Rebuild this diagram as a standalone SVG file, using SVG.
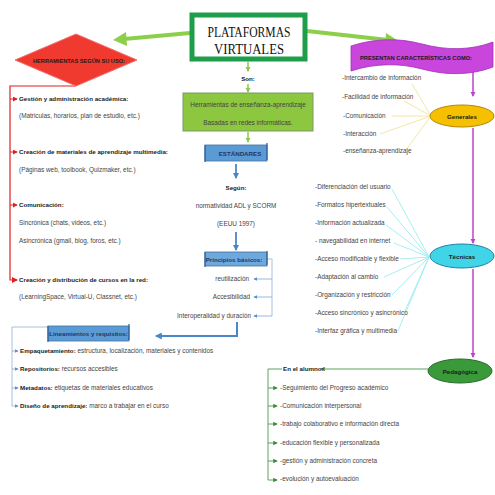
<svg xmlns="http://www.w3.org/2000/svg" width="495" height="495" viewBox="0 0 495 495">
<style>
text{font-family:"Liberation Sans Narrow","Liberation Sans",Arial,sans-serif;font-size:6.4px;fill:#444}
.b{font-weight:bold;fill:#1a1a1a;font-size:6.2px}
.c{text-anchor:middle}
.e{text-anchor:end}
.nv{font-weight:bold;fill:#1f3864;font-size:6.2px}
.title{font-family:"Liberation Serif","Times New Roman",serif;font-size:14px;fill:#111;text-anchor:middle}
</style>
<defs>
<marker id="ar" viewBox="0 0 6 6" refX="5" refY="3" markerWidth="5" markerHeight="5" orient="auto"><path d="M0,0L6,3L0,6z" fill="#e02020"/></marker>
<marker id="ab" viewBox="0 0 6 6" refX="5" refY="3" markerWidth="5" markerHeight="5" orient="auto"><path d="M0,0L6,3L0,6z" fill="#5b8fd0"/></marker>
<marker id="abb" viewBox="0 0 6 6" refX="5" refY="3" markerWidth="3.5" markerHeight="3.5" orient="auto"><path d="M0,0L6,3L0,6z" fill="#4a86c8"/></marker>
<marker id="ag" viewBox="0 0 6 6" refX="5" refY="3" markerWidth="5" markerHeight="5" orient="auto"><path d="M0,0L6,3L0,6z" fill="#3a8a3a"/></marker>
<marker id="alg" viewBox="0 0 6 6" refX="5" refY="3" markerWidth="3.5" markerHeight="3.5" orient="auto"><path d="M0,0L6,3L0,6z" fill="#8cc850"/></marker>
<marker id="ap" viewBox="0 0 6 6" refX="5" refY="3" markerWidth="3.5" markerHeight="3.5" orient="auto"><path d="M0,0L6,3L0,6z" fill="#c040d0"/></marker>
</defs>

<g id="connectors" fill="none">
  <line x1="190" y1="33" x2="124" y2="39" stroke="#8ccf4a" stroke-width="4"/>
  <polygon points="113,40 126,32 127,46" fill="#8ccf4a"/>
  <line x1="307" y1="31" x2="388" y2="40" stroke="#8ccf4a" stroke-width="4"/>
  <polygon points="400,42 386,33 385,47" fill="#8ccf4a"/>
  <line x1="248" y1="62" x2="248" y2="71" stroke="#8cc850" stroke-width="1.5" marker-end="url(#alg)"/>
  <line x1="248" y1="84" x2="248" y2="92" stroke="#8cc850" stroke-width="1.5" marker-end="url(#alg)"/>
  <line x1="248" y1="132" x2="248" y2="142" stroke="#8cc850" stroke-width="1.5" marker-end="url(#alg)"/>
  <line x1="236" y1="164" x2="236" y2="178" stroke="#4a86c8" stroke-width="1.8" marker-end="url(#abb)"/>
  <line x1="236" y1="232" x2="236" y2="250" stroke="#4a86c8" stroke-width="1.8" marker-end="url(#abb)"/>
  <path d="M267,259 H272 V316" stroke="#8fb0da" stroke-width="0.8"/>
  <line x1="272" y1="279" x2="254" y2="279" stroke="#7ea6d3" stroke-width="0.8" marker-end="url(#ab)"/>
  <line x1="272" y1="297" x2="254" y2="297" stroke="#7ea6d3" stroke-width="0.8" marker-end="url(#ab)"/>
  <line x1="272" y1="316" x2="254" y2="316" stroke="#7ea6d3" stroke-width="0.8" marker-end="url(#ab)"/>
  <path d="M237,322 V336 H156" stroke="#4a86c8" stroke-width="2" marker-end="url(#abb)"/>
  <path d="M48,327 H12 V406 H18" stroke="#8fb0da" stroke-width="0.8" marker-end="url(#ab)"/>
  <line x1="12" y1="351" x2="18" y2="351" stroke="#7ea6d3" stroke-width="0.8" marker-end="url(#ab)"/>
  <line x1="12" y1="369" x2="18" y2="369" stroke="#7ea6d3" stroke-width="0.8" marker-end="url(#ab)"/>
  <line x1="12" y1="388" x2="18" y2="388" stroke="#7ea6d3" stroke-width="0.8" marker-end="url(#ab)"/>
  <path d="M76,86 H10 V280 H17" stroke="#e02020" stroke-width="1.2" marker-end="url(#ar)"/>
  <line x1="10" y1="99" x2="17" y2="99" stroke="#e02020" stroke-width="1" marker-end="url(#ar)"/>
  <line x1="10" y1="152" x2="17" y2="152" stroke="#e02020" stroke-width="1" marker-end="url(#ar)"/>
  <line x1="10" y1="205" x2="17" y2="205" stroke="#e02020" stroke-width="1" marker-end="url(#ar)"/>
  <line x1="473" y1="71" x2="473" y2="96" stroke="#c040d0" stroke-width="1.5" marker-end="url(#ap)"/>
  <line x1="473" y1="128" x2="473" y2="243" stroke="#c040d0" stroke-width="1.5" marker-end="url(#ap)"/>
  <line x1="473" y1="269" x2="473" y2="357" stroke="#c040d0" stroke-width="1.5" marker-end="url(#ap)"/>
  <g stroke="#f3e39a" stroke-width="0.9">
    <line x1="431" y1="116" x2="412" y2="84"/>
    <line x1="431" y1="116" x2="404" y2="101"/>
    <line x1="431" y1="116" x2="392" y2="116"/>
    <line x1="431" y1="116" x2="380" y2="134"/>
    <line x1="431" y1="116" x2="406" y2="150"/>
  </g>
  <g stroke="#9cecf0" stroke-width="0.9">
    <line x1="429" y1="257" x2="392" y2="189"/>
    <line x1="429" y1="257" x2="387" y2="207"/>
    <line x1="429" y1="257" x2="386" y2="225"/>
    <line x1="429" y1="257" x2="394" y2="243"/>
    <line x1="429" y1="257" x2="400" y2="259"/>
    <line x1="429" y1="257" x2="384" y2="277"/>
    <line x1="429" y1="257" x2="392" y2="295"/>
    <line x1="429" y1="257" x2="404" y2="313"/>
    <line x1="429" y1="257" x2="398" y2="331"/>
  </g>
  <line x1="428" y1="369" x2="321" y2="369" stroke="#4a9a4a" stroke-width="0.9" marker-end="url(#ag)"/>
  <path d="M282,369 H268 V480 H277" stroke="#4a9a4a" stroke-width="0.9" marker-end="url(#ag)"/>
  <line x1="268" y1="388" x2="277" y2="388" stroke="#4a9a4a" stroke-width="0.9" marker-end="url(#ag)"/>
  <line x1="268" y1="406" x2="277" y2="406" stroke="#4a9a4a" stroke-width="0.9" marker-end="url(#ag)"/>
  <line x1="268" y1="424" x2="277" y2="424" stroke="#4a9a4a" stroke-width="0.9" marker-end="url(#ag)"/>
  <line x1="268" y1="443" x2="277" y2="443" stroke="#4a9a4a" stroke-width="0.9" marker-end="url(#ag)"/>
  <line x1="268" y1="461" x2="277" y2="461" stroke="#4a9a4a" stroke-width="0.9" marker-end="url(#ag)"/>
</g>

<g id="title">
  <rect x="192" y="15" width="113" height="44" fill="#fff" stroke="#1e9e4a" stroke-width="5"/>
  <text class="title" x="249" y="37" textLength="83" lengthAdjust="spacingAndGlyphs">PLATAFORMAS</text>
  <text class="title" x="249" y="54" textLength="70" lengthAdjust="spacingAndGlyphs">VIRTUALES</text>
</g>

<g id="herramientas">
  <polygon points="76,34 137,60 76,86 15,60" fill="#f03a30" stroke="#f07070" stroke-width="1"/>
  <text class="b c" x="79" y="62.5" textLength="92" lengthAdjust="spacingAndGlyphs">HERRAMIENTAS SEGÚN SU USO:</text>
</g>

<g id="herramientas-list">
  <text class="b" x="19" y="101">Gestión y administración académica:</text>
  <text x="19" y="118">(Matriculas, horarios, plan de estudio, etc.)</text>
  <text class="b" x="19" y="154">Creación de materiales de aprendizaje multimedia:</text>
  <text x="19" y="172">(Páginas web, toolbook, Quizmaker, etc.)</text>
  <text class="b" x="19" y="207">Comunicación:</text>
  <text x="19" y="225">Sincrónica (chats, videos, etc.)</text>
  <text x="19" y="243">Asincrónica (gmail, blog, foros, etc.)</text>
  <text class="b" x="19" y="282">Creación y distribución de cursos en la red:</text>
  <text x="19" y="299">(LearningSpace, Virtual-U, Classnet, etc.)</text>
</g>

<g id="son">
  <text class="b c" x="248" y="81">Son:</text>
</g>

<g id="herramientas-box">
  <rect x="183" y="93" width="130" height="38" fill="#8dc63f" stroke="#7a9a6a" stroke-width="1"/>
  <text class="c" x="248" y="107" fill="#333">Herramientas de enseñanza-aprendizaje</text>
  <text class="c" x="248" y="125" fill="#333">Basadas en redes informáticas.</text>
</g>

<g id="estandares">
  <rect x="205" y="145" width="62" height="16" fill="#5b9bd5" stroke="#41719c" stroke-width="0.8"/>
  <path d="M205,145 V162 M267,143 V160" stroke="#2e5f95" stroke-width="1.2"/>
  <text class="nv c" x="240" y="155.5">ESTÁNDARES</text>
</g>

<g id="segun">
  <text class="b c" x="236" y="190">Según:</text>
  <text class="c" x="236" y="208">normatividad ADL y SCORM</text>
  <text class="c" x="236" y="226">(EEUU 1997)</text>
</g>

<g id="principios">
  <rect x="205" y="252" width="62" height="14" fill="#6fa8dc" stroke="#41719c" stroke-width="0.8"/>
  <path d="M205,252 V267 M267,251 V265" stroke="#2e5f95" stroke-width="1.2"/>
  <text class="nv c" x="234" y="261.5">Principios básicos:</text>
  <text class="e" x="249" y="281">reutilización</text>
  <text class="e" x="250" y="299">Accesibilidad</text>
  <text class="e" x="251" y="318">Interoperalidad y duración</text>
</g>

<g id="lineamientos">
  <rect x="48" y="326" width="81" height="15" fill="#5b9bd5" stroke="#41719c" stroke-width="0.8"/>
  <path d="M48,326 V342 M129,324 V340" stroke="#2e5f95" stroke-width="1.2"/>
  <text class="nv c" x="88.5" y="336">Lineamientos y requisitos:</text>
  <text x="20" y="353"><tspan class="b">Empaquetamiento:</tspan> estructura, localización, materiales y contenidos</text>
  <text x="20" y="371"><tspan class="b">Repositorios:</tspan> recursos accesibles</text>
  <text x="20" y="390"><tspan class="b">Metadatos:</tspan> etiquetas de materiales educativos</text>
  <text x="20" y="408"><tspan class="b">Diseño de aprendizaje:</tspan> marco a trabajar en el curso</text>
</g>

<g id="presentan">
  <path d="M351,46 C375,38 400,38 422,44 C448,51 472,50 493,42 L493,67 C472,75 448,76 422,69 C400,63 375,63 351,71 Z" fill="#c846dc" stroke="#a030b8" stroke-width="0.8"/>
  <text class="b c" x="416" y="60" textLength="112" lengthAdjust="spacingAndGlyphs">PRESENTAN CARACTERÍSTICAS COMO:</text>
</g>

<g id="generales">
  <ellipse cx="462" cy="116" rx="32" ry="11" fill="#f5c000" stroke="#b8860b" stroke-width="1"/>
  <text class="b c" x="462" y="118.5">Generales</text>
  <text x="342" y="80">-Intercambio de información</text>
  <text x="342" y="99">-Facilidad de información</text>
  <text x="343" y="118">-Comunicación</text>
  <text x="343" y="136">-Interacción</text>
  <text x="343" y="153">-enseñanza-aprendizaje</text>
</g>

<g id="tecnicas">
  <ellipse cx="462" cy="256" rx="32" ry="12" fill="#3fd5e6" stroke="#1f7fb0" stroke-width="1"/>
  <text class="b c" x="462" y="258.5">Técnicas</text>
  <text x="315" y="189">-Diferenciación del usuario</text>
  <text x="315" y="207">-Formatos hipertextuales</text>
  <text x="315" y="225">-Información actualizada</text>
  <text x="315" y="243">- navegabilidad en internet</text>
  <text x="315" y="261">-Acceso modificable y flexible</text>
  <text x="315" y="279">-Adaptación al cambio</text>
  <text x="315" y="297">-Organización y restricción</text>
  <text x="315" y="315">-Acceso sincrónico y asincrónico</text>
  <text x="315" y="333">-Interfaz gráfica y multimedia</text>
</g>

<g id="pedagogica">
  <ellipse cx="460" cy="371" rx="32" ry="12" fill="#3a9a3a" stroke="#2a6a2a" stroke-width="1"/>
  <text class="b c" x="460" y="373.5">Pedagógica</text>
  <text class="b" x="283" y="371">En el alumno:</text>
  <text x="280" y="390">-Seguimiento del Progreso académico</text>
  <text x="280" y="408">-Comunicación interpersonal</text>
  <text x="280" y="426">-trabajo colaborativo e información directa</text>
  <text x="280" y="445">-educación flexible y personalizada</text>
  <text x="280" y="463">-gestión y administración concreta</text>
  <text x="280" y="481">-evolución y autoevaluación</text>
</g>
</svg>
